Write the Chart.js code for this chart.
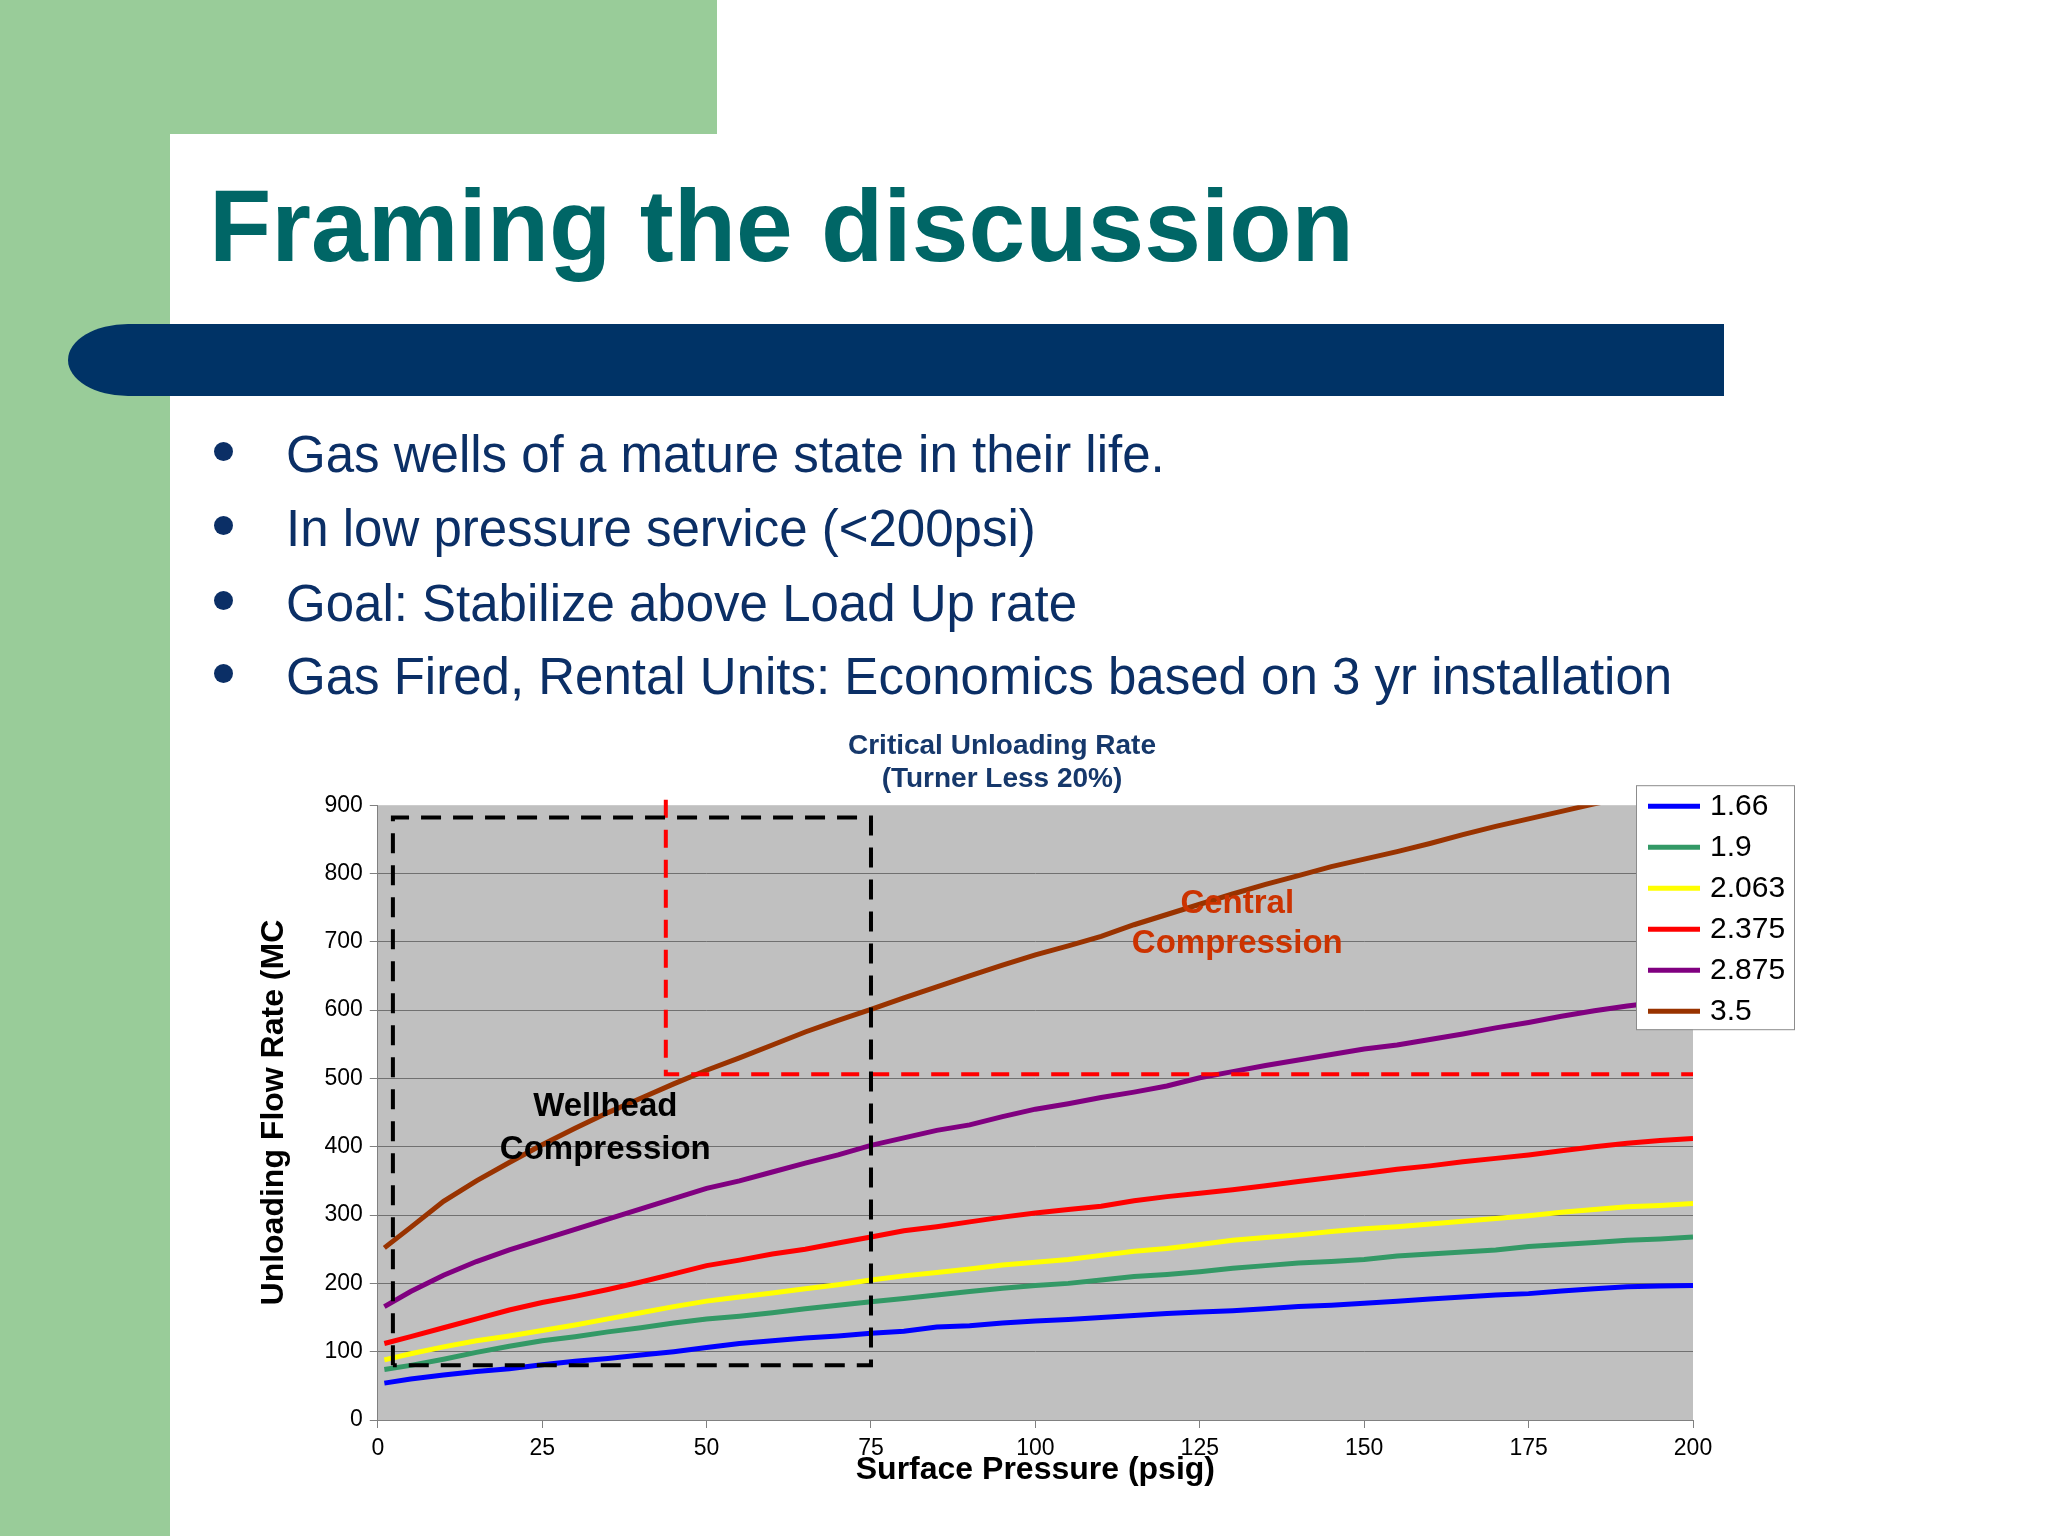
<!DOCTYPE html>
<html>
<head>
<meta charset="utf-8">
<title>Framing the discussion</title>
<script src="https://cdn.jsdelivr.net/npm/chart.js@4.4.1/dist/chart.umd.min.js"></script>
<style>
  html, body { margin: 0; padding: 0; }
  body {
    width: 2048px; height: 1536px; position: relative; overflow: hidden;
    background: #fff; font-family: 'Liberation Sans', Arial, sans-serif;
  }
  .green { position: absolute; background: #99cc99; }
  #panel {
    position: absolute; left: 170px; top: 134px; right: 0; bottom: 0;
    background: #fff; border-top-left-radius: 65px 55px;
  }
  #bar {
    position: absolute; left: 68px; top: 324px; width: 1656px; height: 72px;
    background: #003366; border-radius: 60px 0 0 60px / 36px 0 0 36px;
  }
  #slideTitle {
    position: absolute; left: 209px; top: 175px; margin: 0;
    font-size: 102px; line-height: 1; font-weight: bold; color: #006666;
  }
  .bullet {
    position: absolute; left: 286px; font-size: 51px; line-height: 74px;
    color: #0b2f66; white-space: nowrap;
  }
  .bullet::before {
    content: ''; position: absolute; left: -72px; top: 24px;
    width: 19px; height: 19px; border-radius: 50%; background: #0b2f66;
  }
  #chartBox { position: absolute; left: 240px; top: 720px; width: 1560px; height: 790px; }
</style>
</head>
<body>
<div class="green" style="left:0;top:0;width:717px;height:134px"></div>
<div class="green" style="left:0;top:0;width:170px;height:1536px"></div>
<div id="panel"></div>
<div id="bar"></div>
<h1 id="slideTitle">Framing the discussion</h1>
<div class="bullet" style="top:418px">Gas wells of a mature state in their life.</div>
<div class="bullet" style="top:492px">In low pressure service (&lt;200psi)</div>
<div class="bullet" style="top:567px">Goal: Stabilize above Load Up rate</div>
<div class="bullet" style="top:640px">Gas Fired, Rental Units: Economics based on 3 yr installation</div>
<div id="chartBox"><canvas id="unloadChart" width="1560" height="790"></canvas></div>

<script>
// surface pressure (psig) where the curves were read
const pressure = [1, 5, 10, 15, 20, 25, 30, 35, 40, 45, 50, 55, 60, 65, 70, 75, 80, 85, 90, 95, 100,
    105, 110, 115, 120, 125, 130, 135, 140, 145, 150, 155, 160, 165, 170, 175, 180, 185, 190, 195, 200];

// tubing sizes (legend)
const tubingSizes = ['1.66', '1.9', '2.063', '2.375', '2.875', '3.5'];

// unloading flow rate (MCF/d) per tubing size
const rate166 = [54, 60, 66, 71, 75, 81, 86, 90, 95, 100, 106, 112, 116, 120, 123, 127, 130, 136, 138, 142, 145,
    147, 150, 153, 156, 158, 160, 163, 166, 168, 171, 174, 177, 180, 183, 185, 189, 192, 195, 196, 197];
const rate19 = [74, 80, 89, 99, 108, 116, 122, 129, 135, 142, 148, 152, 157, 163, 168, 173, 178, 183, 188, 193, 197,
    200, 205, 210, 213, 217, 222, 226, 230, 232, 235, 240, 243, 246, 249, 254, 257, 260, 263, 265, 268];
const rate2063 = [88, 97, 107, 116, 123, 131, 139, 148, 157, 166, 174, 180, 186, 192, 198, 205, 211, 216, 221, 227, 231,
    235, 241, 247, 251, 257, 263, 267, 271, 276, 280, 283, 287, 291, 295, 299, 304, 308, 312, 314, 317];
const rate2375 = [112, 122, 135, 148, 161, 172, 181, 191, 202, 214, 226, 234, 243, 250, 259, 268, 277, 283, 290, 297, 303,
    308, 313, 321, 327, 332, 337, 343, 349, 355, 361, 367, 372, 378, 383, 388, 394, 400, 405, 409, 412];
const rate2875 = [166, 188, 212, 232, 249, 264, 279, 294, 309, 324, 339, 350, 363, 376, 388, 402, 413, 424, 432, 444, 455,
    463, 472, 480, 489, 501, 510, 519, 527, 535, 543, 549, 557, 565, 574, 582, 591, 599, 606, 612, 618];
const rate35 = [252, 282, 320, 350, 377, 403, 427, 450, 471, 492, 512, 530, 549, 568, 585, 601, 618, 634, 650, 666, 681,
    694, 708, 725, 740, 755, 770, 784, 797, 810, 821, 832, 844, 857, 869, 880, 891, 902, 912];

const seriesColors = ['#0000ff', '#339966', '#ffff00', '#ff0000', '#800080', '#993300'];

// dashed outlines: wellhead compression box and central compression corner
const wellheadBoxX = [2.3, 2.3, 75, 75, 2.3];
const wellheadBoxY = [80, 882, 882, 80, 80];
const centralEdgeX = [43.8, 43.8, 200];
const centralEdgeY = [908, 506, 506];

const FONT = "'Liberation Sans', Arial, sans-serif";

function toPoints(xs, ys) {
    return ys.map((y, i) => ({ x: xs[i], y: y }));
}

const allRates = [rate166, rate19, rate2063, rate2375, rate2875, rate35];

const curveSets = tubingSizes.map((name, i) => ({
    label: name,
    data: toPoints(pressure, allRates[i]),
    borderColor: seriesColors[i],
    backgroundColor: seriesColors[i],
    borderWidth: 5,
    pointRadius: 0,
    tension: 0,
    fill: false
}));

const shapeSets = [
    {
        label: 'wellhead', isShape: true,
        data: toPoints(wellheadBoxX, wellheadBoxY),
        borderColor: '#000', borderWidth: 4, borderDash: [20, 12],
        pointRadius: 0, tension: 0, fill: false, clip: false, order: -1
    },
    {
        label: 'central', isShape: true,
        data: toPoints(centralEdgeX, centralEdgeY),
        borderColor: '#ff0000', borderWidth: 4, borderDash: [18, 12],
        pointRadius: 0, tension: 0, fill: false, clip: false, order: -1
    }
];

// grey plot background like the Excel chart
const plotBackground = {
    id: 'plotBackground',
    beforeDraw(chart) {
        const { ctx, chartArea } = chart;
        ctx.save();
        ctx.fillStyle = '#c0c0c0';
        ctx.fillRect(chartArea.left, chartArea.top, chartArea.right - chartArea.left, chartArea.bottom - chartArea.top);
        ctx.restore();
    }
};

// text notes placed in data units
const slideNotes = {
    id: 'slideNotes',
    afterDatasetsDraw(chart, args, opts) {
        const { ctx, scales } = chart;
        ctx.save();
        ctx.font = 'bold 33px ' + FONT;
        ctx.textAlign = 'center';
        ctx.textBaseline = 'middle';
        opts.notes.forEach(note => {
            ctx.fillStyle = note.color;
            const x = scales.x.getPixelForValue(note.x);
            note.lines.forEach((line, i) => {
                ctx.fillText(line, x, scales.y.getPixelForValue(note.y[i]));
            });
        });
        ctx.restore();
    }
};

// legend box that sits over the right edge of the plot
const slideLegend = {
    id: 'slideLegend',
    afterDraw(chart) {
        const { ctx, chartArea } = chart;
        const items = chart.data.datasets.filter(d => !d.isShape);
        const left = chartArea.right - 57;
        const top = chartArea.top - 20;
        const w = 158, rowH = 41, h = 244;
        ctx.save();
        ctx.fillStyle = '#fff';
        ctx.fillRect(left, top, w, h);
        ctx.strokeStyle = '#8c8c8c';
        ctx.lineWidth = 1;
        ctx.strokeRect(left + 0.5, top + 0.5, w, h);
        ctx.font = '30px ' + FONT;
        ctx.textBaseline = 'middle';
        items.forEach((d, i) => {
            const cy = top + 21 + i * rowH;
            ctx.strokeStyle = d.borderColor;
            ctx.lineWidth = 5;
            ctx.beginPath();
            ctx.moveTo(left + 12, cy);
            ctx.lineTo(left + 64, cy);
            ctx.stroke();
            ctx.fillStyle = '#000';
            ctx.fillText(d.label, left + 74, cy + 1);
        });
        ctx.restore();
    }
};

new Chart(document.getElementById('unloadChart'), {
    type: 'line',
    data: { datasets: shapeSets.concat(curveSets) },
    plugins: [plotBackground, slideNotes, slideLegend],
    options: {
        responsive: false,
        animation: false,
        devicePixelRatio: 1,
        layout: { padding: { left: 0, right: 36, top: 0, bottom: 21 } },
        plugins: {
            legend: { display: false },
            tooltip: { enabled: false },
            title: {
                display: true,
                text: ['Critical Unloading Rate', '(Turner Less 20%)'],
                color: '#16386b',
                font: { family: FONT, size: 28, weight: 'bold', lineHeight: 1.2 },
                padding: { top: 9, bottom: 9 }
            },
            slideNotes: {
                notes: [
                    { lines: ['Wellhead', 'Compression'], x: 34.6, y: [458, 396], color: '#000' },
                    { lines: ['Central', 'Compression'], x: 130.7, y: [756, 697], color: '#cc3300' }
                ]
            }
        },
        scales: {
            x: {
                type: 'linear',
                min: 0, max: 200,
                ticks: { stepSize: 25, color: '#000', font: { family: FONT, size: 23 }, padding: 7, maxRotation: 0 },
                grid: { drawOnChartArea: false, tickLength: 8, color: '#808080' },
                border: { color: '#808080' },
                title: {
                    display: true, text: 'Surface Pressure (psig)', color: '#000',
                    font: { family: FONT, size: 32, weight: 'bold' },
                    padding: { top: -19, bottom: 0 }
                }
            },
            y: {
                min: 0, max: 900,
                ticks: { stepSize: 100, color: '#000', font: { family: FONT, size: 23 }, padding: 7 },
                grid: {
                    tickLength: 8,
                    color: c => (c.tick && c.tick.value === 900) ? 'rgba(0,0,0,0)' : '#707070',
                    tickColor: '#808080'
                },
                border: { color: '#808080' },
                title: {
                    display: true, text: 'Unloading Flow Rate (MC', color: '#000',
                    font: { family: FONT, size: 32, weight: 'bold' },
                    padding: { top: 15, bottom: 24 }
                }
            },
            y2: {
                position: 'right',
                ticks: { display: false },
                grid: { display: false },
                border: { display: false },
                afterFit(scale) { scale.width = 71; }
            }
        }
    }
});
</script>
</body>
</html>
